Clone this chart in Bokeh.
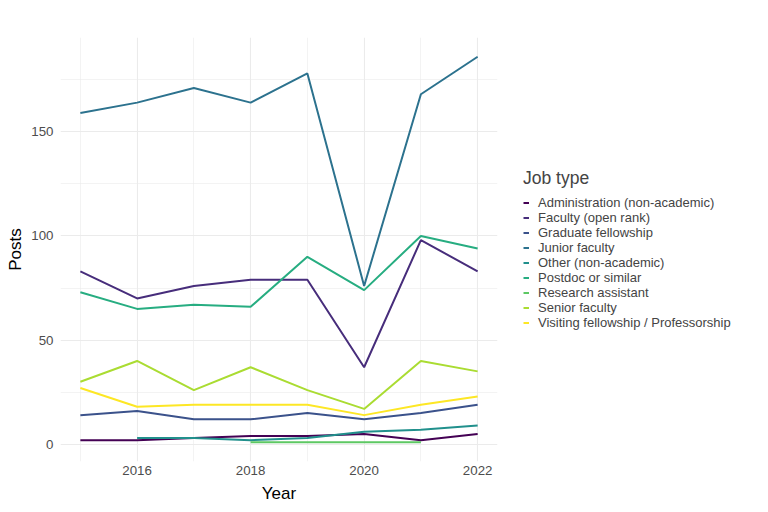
from bokeh.plotting import figure
from bokeh.models import Legend, LegendItem, FixedTicker, Range1d
from bokeh.embed import file_html
from bokeh.resources import INLINE

years = [2015, 2016, 2017, 2018, 2019, 2020, 2021, 2022]

job_types = [
    "Administration (non-academic)",
    "Faculty (open rank)",
    "Graduate fellowship",
    "Junior faculty",
    "Other (non-academic)",
    "Postdoc or similar",
    "Research assistant",
    "Senior faculty",
    "Visiting fellowship / Professorship",
]

administration = [2, 2, 3, 4, 4, 5, 2, 5]
faculty_open = [83, 70, 76, 79, 79, 37, 98, 83]
graduate = [14, 16, 12, 12, 15, 12, 15, 19]
junior = [159, 164, 171, 164, 178, 76, 168, 186]
other_years = [2016, 2017, 2018, 2019, 2020, 2021, 2022]
other = [3, 3, 2, 3, 6, 7, 9]
postdoc = [73, 65, 67, 66, 90, 74, 100, 94]
research_years = [2018, 2019, 2020, 2021]
research = [1, 1, 1, 1]
senior = [30, 40, 26, 37, 26, 17, 40, 35]
visiting = [27, 18, 19, 19, 19, 14, 19, 23]

series = [
    (years, administration),
    (years, faculty_open),
    (years, graduate),
    (years, junior),
    (other_years, other),
    (years, postdoc),
    (research_years, research),
    (years, senior),
    (years, visiting),
]

colors = ["#440154", "#472D7B", "#3B528B", "#2C728E", "#21908C",
          "#27AD81", "#5DC863", "#AADC32", "#FDE725"]

x_major = [2016, 2018, 2020, 2022]
x_minor = [2015, 2017, 2019, 2021]
y_major = [0, 50, 100, 150]
y_minor = [25, 75, 125, 175]

FONT = "Liberation Sans"

p = figure(frame_width=437, frame_height=424, output_backend="svg",
           toolbar_location=None,
           x_range=Range1d(2014.65, 2022.35), y_range=Range1d(-8.25, 195.25),
           min_border_left=60, min_border_right=271, min_border_top=37,
           min_border_bottom=51)
p.outline_line_color = None
p.background_fill_color = "white"
p.border_fill_color = "white"

items = []
for (xs, ys), name, c in zip(series, job_types, colors):
    r = p.line(xs, ys, line_color=c, line_width=2)
    items.append(LegendItem(label=name, renderers=[r]))

for ax in (p.xaxis[0], p.yaxis[0]):
    ax.axis_line_color = None
    ax.major_tick_line_color = None
    ax.minor_tick_line_color = None
    ax.major_tick_out = 0
    ax.minor_tick_out = 0
    ax.major_label_text_color = "#4D4D4D"
    ax.major_label_text_font = FONT
    ax.major_label_text_font_size = "13.3px"
    ax.axis_label_text_font = FONT
    ax.axis_label_text_font_size = "17px"
    ax.axis_label_text_font_style = "normal"
    ax.axis_label_text_color = "black"

p.xaxis.ticker = FixedTicker(ticks=x_major, minor_ticks=x_minor)
p.yaxis.ticker = FixedTicker(ticks=y_major, minor_ticks=y_minor)
p.xaxis.axis_label = "Year"
p.yaxis.axis_label = "Posts"
p.xaxis.major_label_standoff = 4
p.yaxis.major_label_standoff = 7
p.xaxis.axis_label_standoff = 6
p.yaxis.axis_label_standoff = 3

for g in (p.xgrid[0], p.ygrid[0]):
    g.grid_line_color = "#EBEBEB"
    g.grid_line_width = 1.1
    g.minor_grid_line_color = "#EBEBEB"
    g.minor_grid_line_width = 0.6

legend = Legend(items=items, title="Job type", location="center_left",
                title_text_font=FONT, title_text_font_size="17.5px",
                title_text_font_style="normal", title_standoff=6,
                label_text_font=FONT, label_text_font_size="13px",
                label_height=13, glyph_height=13, glyph_width=6,
                label_standoff=9, spacing=0, padding=0, margin=26,
                border_line_color=None, background_fill_alpha=0)
p.add_layout(legend, "right")

open("out.html", "w").write(file_html(p, INLINE))
